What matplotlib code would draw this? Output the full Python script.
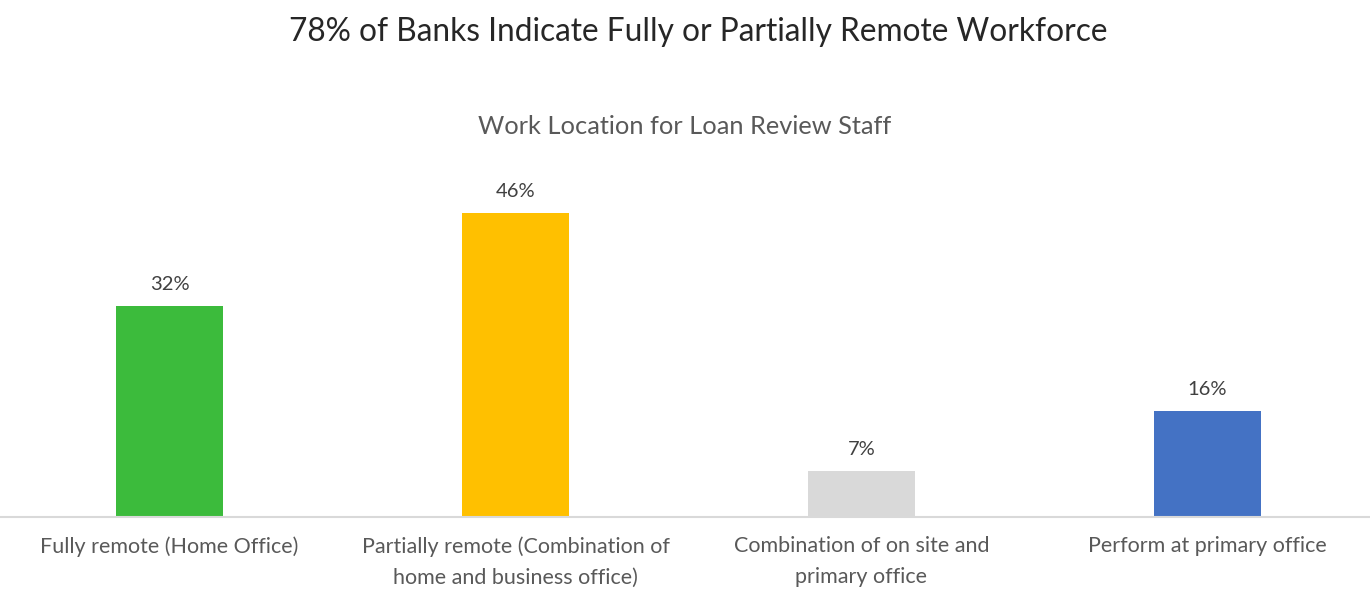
import matplotlib.pyplot as plt

categories = [
    "Fully remote (Home Office)",
    "Partially remote (Combination of\nhome and business office)",
    "Combination of on site and\nprimary office",
    "Perform at primary office",
]
values = [32, 46, 7, 16]
colors = ["#3CBB3C", "#FFC000", "#D9D9D9", "#4472C4"]

plt.rcParams["font.family"] = ["Lato", "DejaVu Sans"]

fig = plt.figure(figsize=(13.7, 6), dpi=100)
ax = fig.add_axes([0, 0.1383, 1, 0.55])

x = range(len(categories))
bars = ax.bar(x, values, width=0.31, color=colors)
for b, v in zip(bars, values):
    ax.text(b.get_x() + b.get_width() / 2, v + 2.0, f"{v}%", ha="center", va="bottom",
            fontsize=14.5, color="#404040")

ax.set_xlim(-0.49, 3.47)
ax.set_ylim(0, 50)
ax.set_xticks(list(x))
ax.set_xticklabels(categories, fontsize=15.5, color="#595959", linespacing=1.65)
ax.tick_params(axis="x", length=0, pad=14)
ax.set_yticks([])
for s in ["top", "right", "left"]:
    ax.spines[s].set_visible(False)
ax.spines["bottom"].set_color("#D9D9D9")
ax.spines["bottom"].set_linewidth(1.5)

fig.text(0.51, 0.947, "78% of Banks Indicate Fully or Partially Remote Workforce",
         ha="center", va="center", fontsize=22.8, color="#262626")
fig.text(0.5, 0.79, "Work Location for Loan Review Staff",
         ha="center", va="center", fontsize=18.3, color="#595959")

fig.savefig("out.png", dpi=100)
